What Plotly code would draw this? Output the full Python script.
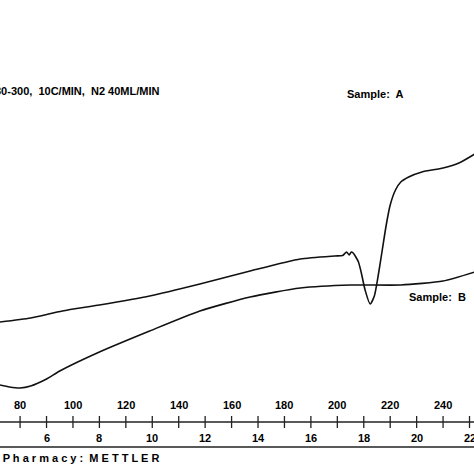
import plotly.graph_objects as go

# Temperature (°C) and heat flow (arbitrary units)
temp_a = [72.4, 84, 96, 110, 129, 148, 167, 186, 199, 202, 203.5, 204.5, 205.3, 206, 207, 208, 209, 210.5, 212.4,
          214, 215.5, 217, 218.5, 220, 222, 224, 227, 232, 240, 246, 252]
flow_a = [7.8, 8.2, 8.9, 9.5, 10.4, 11.6, 12.9, 14.1, 14.4, 14.45, 14.8, 14.5, 14.8, 14.7, 14.3, 13.8, 12.8, 11.0, 9.6,
          10.4, 12.5, 15.0, 17.5, 19.5, 21.0, 21.8, 22.3, 22.8, 23.2, 23.7, 24.6]
temp_b = [72.4, 76, 80, 84, 90, 95, 110, 129, 148, 167, 186, 205, 224, 240, 252]
flow_b = [1.5, 1.3, 1.2, 1.4, 2.1, 2.9, 4.8, 6.9, 8.9, 10.3, 11.2, 11.5, 11.5, 11.9, 12.8]

temp_ticks = [80, 100, 120, 140, 160, 180, 200, 220, 240]
time_ticks = [6, 8, 10, 12, 14, 16, 18, 20, 22]   # minutes; T = 30 + 10*t
minor_ticks = list(range(70, 260, 10))

AXIS_Y = -2.2
LOWER_Y = -4.7
fam = "Liberation Sans Narrow, Liberation Sans, sans-serif"
font = dict(family=fam, size=11, color="black")

fig = go.Figure()
for t, f in [(temp_a, flow_a), (temp_b, flow_b)]:
    fig.add_trace(go.Scatter(x=t, y=f, mode="lines", line=dict(color="#111", width=1.6, shape="spline", smoothing=0.6),
                             showlegend=False, hoverinfo="skip"))

fig.add_shape(type="line", x0=70, x1=255, y0=AXIS_Y, y1=AXIS_Y, line=dict(color="#222", width=1.5))
fig.add_shape(type="line", x0=70, x1=255, y0=LOWER_Y, y1=LOWER_Y, line=dict(color="#222", width=1.5))
for tk in minor_ticks:
    fig.add_shape(type="line", x0=tk, x1=tk, y0=AXIS_Y - 0.6, y1=AXIS_Y + 0.6, line=dict(color="#222", width=1.3))
for tk in temp_ticks:
    fig.add_annotation(x=tk, y=AXIS_Y + 1.7, text=f"<b>{tk}</b>", showarrow=False, font=font)
for tm in time_ticks:
    fig.add_annotation(x=30 + 10 * tm, y=AXIS_Y - 1.6, text=f"<b>{tm}</b>", showarrow=False, font=font)

fig.add_annotation(xref="paper", x=-0.015, y=30.9, xanchor="left", text="<b>30-300,  10C/MIN,  N2 40ML/MIN</b>",
                   showarrow=False, font=dict(family=fam, size=11, color="black"))
fig.add_annotation(x=202.9, y=30.6, xanchor="left", text="<b>Sample:  A</b>", showarrow=False,
                   font=dict(family=fam, size=11, color="black"))
fig.add_annotation(x=226.4, y=10.3, xanchor="left", text="<b>Sample:  B</b>", showarrow=False,
                   font=dict(family=fam, size=11, color="black"))
fig.add_annotation(xref="paper", x=-0.01, y=-5.8, xanchor="left", text="<b>' P h a r m a c y :  M E T T L E R</b>",
                   showarrow=False, font=dict(family="Liberation Sans, sans-serif", size=11, color="black"))

fig.update_xaxes(range=[72.4, 251.7], visible=False)
fig.update_yaxes(range=[-7.4, 40], visible=False)
fig.update_layout(width=474, height=474, margin=dict(l=0, r=0, t=0, b=0, autoexpand=False),
                  plot_bgcolor="white", paper_bgcolor="white")
fig.write_html("out.html", post_script="document.body.style.margin='0';", config={"displayModeBar": False})
